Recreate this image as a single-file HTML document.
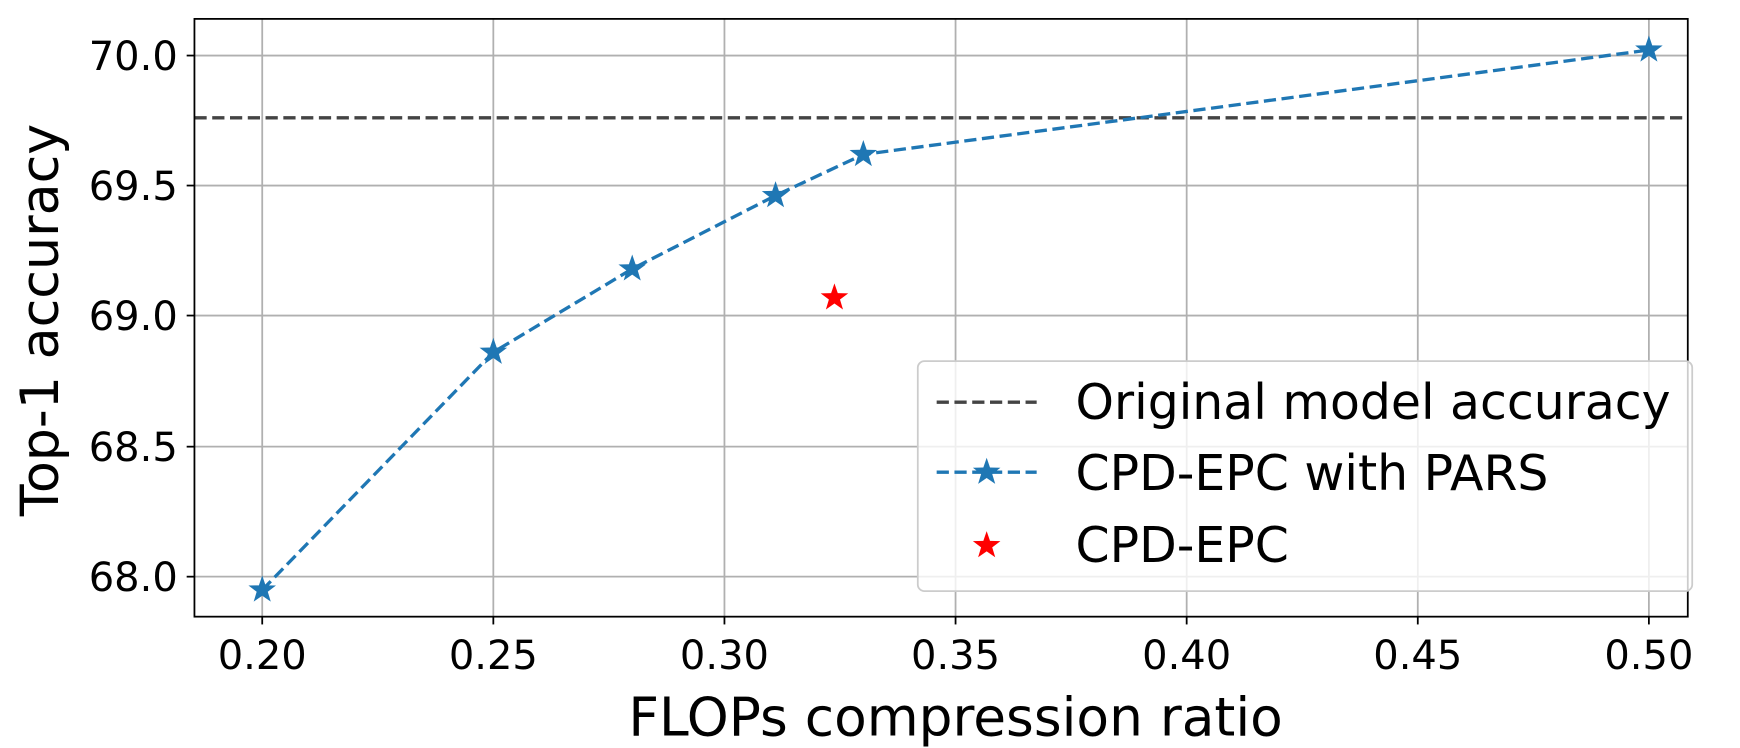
<!DOCTYPE html>
<html><head><style>html,body{margin:0;padding:0;background:#fff;overflow:hidden;width:100%;height:100%}svg{display:block;width:100vw;height:100vh}</style></head><body>
<svg viewBox="0 0 1566 673.2" preserveAspectRatio="none" xmlns="http://www.w3.org/2000/svg" font-family="'DejaVu Sans', 'Liberation Sans', sans-serif">
<defs>
<polygon id="st" points="0,-13 3,-4.2 12.4,-4 5,1.6 7.7,10.5 0,5.2 -7.7,10.5 -5,1.6 -12.4,-4 -3,-4.2"/>
</defs>
<rect x="0" y="0" width="1566" height="674" fill="#fff"/>
<g stroke="#b0b0b0" stroke-width="1.6">
<line x1="236" y1="17" x2="236" y2="555"/><line x1="444" y1="17" x2="444" y2="555"/><line x1="652" y1="17" x2="652" y2="555"/><line x1="860" y1="17" x2="860" y2="555"/><line x1="1068" y1="17" x2="1068" y2="555"/><line x1="1276" y1="17" x2="1276" y2="555"/><line x1="1484" y1="17" x2="1484" y2="555"/>
<line x1="175" y1="50" x2="1519" y2="50"/><line x1="175" y1="167" x2="1519" y2="167"/><line x1="175" y1="284" x2="1519" y2="284"/><line x1="175" y1="402" x2="1519" y2="402"/><line x1="175" y1="519" x2="1519" y2="519"/>
</g>
<line x1="175" y1="106" x2="1519" y2="106" stroke="#444" stroke-width="3" stroke-dasharray="11,5"/>
<polyline points="236,531 444,317 569,242 698,176 777,139 1484,45" fill="none" stroke="#1f77b4" stroke-width="3" stroke-dasharray="11,5"/>
<g fill="#1f77b4">
<use href="#st" x="236" y="531"/><use href="#st" x="444" y="317"/><use href="#st" x="569" y="242"/><use href="#st" x="698" y="176"/><use href="#st" x="777" y="139"/><use href="#st" x="1484" y="45"/>
</g>
<use href="#st" x="751" y="268" fill="#ff0000"/>
<rect x="175" y="17" width="1344" height="538" fill="none" stroke="#000" stroke-width="1.6"/>
<g stroke="#000" stroke-width="1.6">
<line x1="236" y1="555" x2="236" y2="562"/><line x1="444" y1="555" x2="444" y2="562"/><line x1="652" y1="555" x2="652" y2="562"/><line x1="860" y1="555" x2="860" y2="562"/><line x1="1068" y1="555" x2="1068" y2="562"/><line x1="1276" y1="555" x2="1276" y2="562"/><line x1="1484" y1="555" x2="1484" y2="562"/>
<line x1="168" y1="50" x2="175" y2="50"/><line x1="168" y1="167" x2="175" y2="167"/><line x1="168" y1="284" x2="175" y2="284"/><line x1="168" y1="402" x2="175" y2="402"/><line x1="168" y1="519" x2="175" y2="519"/>
</g>
<g font-size="36" text-anchor="middle">
<text x="236" y="602">0.20</text><text x="444" y="602">0.25</text><text x="652" y="602">0.30</text><text x="860" y="602">0.35</text><text x="1068" y="602">0.40</text><text x="1276" y="602">0.45</text><text x="1484" y="602">0.50</text>
</g>
<g font-size="36" text-anchor="end">
<text x="160" y="63">70.0</text><text x="160" y="180">69.5</text><text x="160" y="297">69.0</text><text x="160" y="415">68.5</text><text x="160" y="532">68.0</text>
</g>
<text x="860" y="662" font-size="48" text-anchor="middle">FLOPs compression ratio</text>
<text transform="translate(52,288) rotate(-90)" font-size="47" text-anchor="middle">Top-1 accuracy</text>
<rect x="826" y="325" width="697" height="207" rx="6" fill="#fff" fill-opacity="0.8" stroke="#ccc" stroke-width="1.6"/>
<line x1="843" y1="362" x2="933" y2="362" stroke="#444" stroke-width="3" stroke-dasharray="11,5"/>
<line x1="843" y1="425" x2="933" y2="425" stroke="#1f77b4" stroke-width="3" stroke-dasharray="11,5"/>
<use href="#st" x="888" y="425" fill="#1f77b4"/>
<use href="#st" x="888" y="491" fill="#ff0000"/>
<g font-size="44">
<text x="968" y="377">Original model accuracy</text>
<text x="968" y="441">CPD-EPC with PARS</text>
<text x="968" y="506">CPD-EPC</text>
</g>
</svg>
</body></html>
